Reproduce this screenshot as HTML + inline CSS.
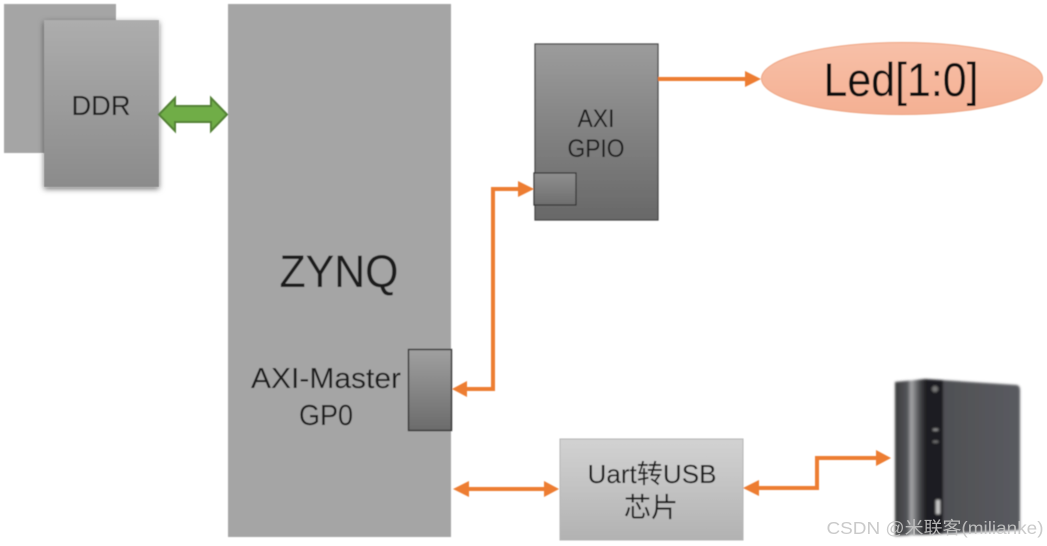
<!DOCTYPE html>
<html><head><meta charset="utf-8"><style>
html,body{margin:0;padding:0;background:#fff}
svg{display:block}
text{font-family:"Liberation Sans","Noto Sans CJK SC",sans-serif;fill:#1c1c1c;text-anchor:middle}
</style></head><body>
<svg width="1047" height="546" viewBox="0 0 1047 546" xmlns="http://www.w3.org/2000/svg">
<defs>
<linearGradient id="g1" x1="0" y1="0" x2="0" y2="1"><stop offset="0" stop-color="#adadad"/><stop offset="1" stop-color="#8b8b8b"/></linearGradient>
<linearGradient id="g2" x1="0" y1="0" x2="0" y2="1"><stop offset="0" stop-color="#9c9c9c"/><stop offset="1" stop-color="#686868"/></linearGradient>
<linearGradient id="g3" x1="0" y1="0" x2="0" y2="1"><stop offset="0" stop-color="#8f8f8f"/><stop offset="1" stop-color="#6e6e6e"/></linearGradient>
<linearGradient id="g4" x1="0" y1="0" x2="0" y2="1"><stop offset="0" stop-color="#a0a0a0"/><stop offset="1" stop-color="#6b6b6b"/></linearGradient>
<linearGradient id="g5" x1="0" y1="0" x2="0" y2="1"><stop offset="0" stop-color="#d2d2d2"/><stop offset="1" stop-color="#b2b2b2"/></linearGradient>
<linearGradient id="g6" x1="0" y1="0" x2="0" y2="1"><stop offset="0" stop-color="#f8c0a8"/><stop offset="1" stop-color="#f4b093"/></linearGradient>
<linearGradient id="pc" x1="0" y1="0" x2="1" y2="0"><stop offset="0" stop-color="#3a3a3c"/><stop offset=".1" stop-color="#55565a"/><stop offset=".13" stop-color="#a5a6a8"/><stop offset=".2" stop-color="#47484b"/><stop offset=".25" stop-color="#1d1e20"/><stop offset=".38" stop-color="#1d1e20"/><stop offset=".39" stop-color="#4f5054"/><stop offset="1" stop-color="#5a5b60"/></linearGradient>
<filter id="sh" x="-20%" y="-20%" width="140%" height="140%"><feDropShadow dx="0" dy="2" stdDeviation="3" flood-color="#000" flood-opacity=".55"/></filter>
<filter id="bl"><feGaussianBlur stdDeviation=".5"/></filter>
<filter id="bl2"><feGaussianBlur stdDeviation="1"/></filter>
</defs>
<g filter="url(#bl)">
<rect x="4" y="4" width="112" height="149" fill="#a5a5a5"/>
<rect x="44" y="20" width="115" height="167" fill="url(#g1)" filter="url(#sh)"/>
<rect x="228" y="4" width="223" height="533" fill="#a5a5a5"/>
<path d="M159 114.500L175 98V106H211V98L227 114.500L211 131V122H175V131Z" fill="#70ad47" stroke="#528135" stroke-width="2"/>
<rect x="408.500" y="349.500" width="43" height="81" fill="url(#g4)" stroke="#333" stroke-width="1.400"/>
<rect x="535" y="44" width="123" height="176" fill="url(#g2)" stroke="#444" stroke-width="1.200"/>
<rect x="534" y="173" width="42" height="32" fill="url(#g3)" stroke="#333" stroke-width="1.200"/>
<rect x="560" y="439" width="183" height="101" fill="url(#g5)" stroke="#b5b5b5" stroke-width="1"/>
<ellipse cx="902" cy="78.500" rx="140.500" ry="36" fill="url(#g6)" stroke="#eea583" stroke-width="1"/>
<g fill="none" stroke="#ed7d31" stroke-width="4">
<path d="M658 79H748"/>
<path d="M520 189H493V389H464"/>
<path d="M467 489H546"/>
<path d="M756 488H817V458H877"/>
</g>
<g fill="#ed7d31">
<path d="M761 79L745 71V87Z"/>
<path d="M534 189L518 181V197Z"/>
<path d="M452 389L467 381V397Z"/>
<path d="M453 489L469 481V497Z"/>
<path d="M559 489L544 481V497Z"/>
<path d="M743 488L759 480V496Z"/>
<path d="M891 458L876 450V466Z"/>
</g>
<g filter="url(#bl2)">
<path d="M895 382L925 379L1017 385Q1020 386 1020 390V530L895 536Z" fill="url(#pc)"/>
<circle cx="935" cy="389" r="3" fill="#777"/>
<rect x="936" y="500" width="4" height="14" fill="#c8c8c8"/>
<rect x="933" y="429" width="5" height="1.500" fill="#aaa"/>
<rect x="933" y="441" width="5" height="1.500" fill="#888"/>
</g>
<text x="101" y="115" font-size="28" textLength="59" lengthAdjust="spacingAndGlyphs">DDR</text>
<text x="339" y="287" font-size="45" textLength="119" lengthAdjust="spacingAndGlyphs">ZYNQ</text>
<text x="326" y="388" font-size="29" textLength="150" lengthAdjust="spacingAndGlyphs">AXI-Master</text>
<text x="326" y="425" font-size="29" textLength="54" lengthAdjust="spacingAndGlyphs">GP0</text>
<text x="596" y="127" font-size="25" textLength="37" lengthAdjust="spacingAndGlyphs">AXI</text>
<text x="596" y="157" font-size="25" textLength="57" lengthAdjust="spacingAndGlyphs">GPIO</text>
<text x="652" y="483" font-size="26" textLength="129" lengthAdjust="spacingAndGlyphs">Uart转USB</text>
<text x="651" y="517" font-size="27">芯片</text>
<text x="901" y="96" font-size="47" style="fill:#111" textLength="155" lengthAdjust="spacingAndGlyphs">Led[1:0]</text>
</g>
<text x="935" y="534" font-size="17.500" style="fill:#c4c4c4;fill-opacity:.9" textLength="217" lengthAdjust="spacingAndGlyphs">CSDN @米联客(milianke)</text>
</svg>
</body></html>
